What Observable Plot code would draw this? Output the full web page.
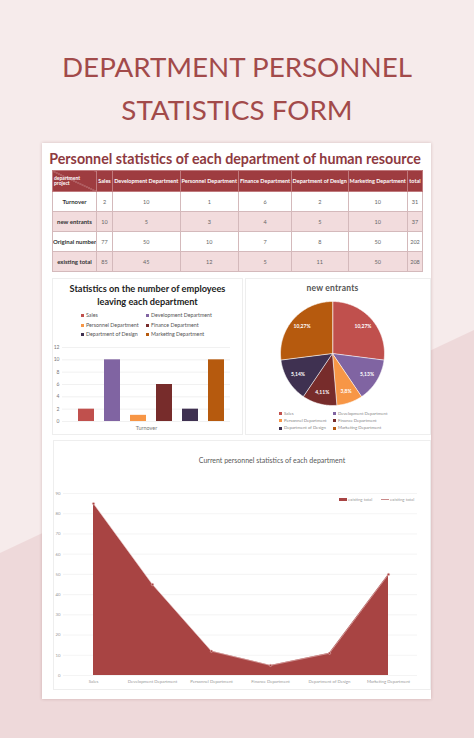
<!DOCTYPE html>
<html><head><meta charset="utf-8">
<script src="https://cdn.jsdelivr.net/npm/d3@7"></script>
<script src="https://cdn.jsdelivr.net/npm/@observablehq/plot@0.6"></script>
<style>
html,body{margin:0;padding:0;}
body{width:474px;height:738px;overflow:hidden;position:relative;font-family:Lato,"Open Sans",sans-serif;background:#f6ebeb;}
.abs{position:absolute;}
#bg2{left:0;top:0;width:474px;height:738px;background:#eed9da;clip-path:polygon(0 553px,474px 330px,474px 738px,0 738px);}
.title{left:0;width:474px;text-align:center;color:#a24a4a;white-space:nowrap;font-weight:400;}
#card{left:42px;top:143px;width:389px;height:556px;background:#fff;box-shadow:0 0 3px rgba(120,60,60,0.25);}
#ttl{left:46px;top:146px;width:378px;height:24px;display:flex;justify-content:center;align-items:center;}
#ttl span{white-space:nowrap;font-weight:700;color:#8e3a3f;}
table{border-collapse:collapse;table-layout:fixed;position:absolute;left:52px;top:170px;width:370px;}
td,th{padding:0;height:19px;text-align:center;font-size:5.5px;overflow:hidden;white-space:nowrap;}
th{background:#9e3c40;color:#fff;font-weight:700;border:0.5px solid #c07a7d;height:20px;}
td{border:0.6px solid #d4b9bb;color:#666;}
td.lab{font-weight:700;color:#333;font-size:6px;}
tr.pink td{background:#f2dcdd;}
th.diag{position:relative;text-align:left;background:#9e3c40 linear-gradient(to top right,transparent calc(50% - 0.4px),#e8c4c6 50%,transparent calc(50% + 0.4px));}
.panel{background:#fff;border:1px solid #eeeeee;box-sizing:border-box;}
.leg{font-size:5.3px;color:#555;white-space:nowrap;}
.sw{display:inline-block;width:3px;height:3px;margin-right:2px;vertical-align:middle;}
</style></head>
<body>
<div id="bg2" class="abs"></div>
<div class="abs title" id="t1" style="top:50px;font-size:31px;">DEPARTMENT PERSONNEL</div>
<div class="abs title" id="t2" style="top:93px;font-size:31px;">STATISTICS FORM</div>
<div id="card" class="abs"></div>
<div id="ttl" class="abs"><span id="ttltext">Personnel statistics of each department of human resource</span></div>
<table id="tbl"></table>
<div class="abs panel" style="left:52px;top:278px;width:191px;height:157px;"></div>
<div class="abs panel" style="left:245px;top:278px;width:186px;height:157px;"></div>
<div class="abs panel" style="left:53px;top:440px;width:378px;height:250px;"></div>
<div class="abs" style="left:52px;top:283px;width:191px;text-align:center;font-weight:700;font-size:9.2px;line-height:12.5px;color:#222;">Statistics on the number of employees<br>leaving each department</div>
<div class="abs" style="left:245px;top:283px;width:175px;text-align:center;font-weight:700;font-size:8.5px;color:#555;letter-spacing:0.2px;">new entrants</div>
<div class="abs" style="left:53px;top:456px;width:438px;text-align:center;font-size:7px;color:#595959;">Current personnel statistics of each department</div>
<div id="barleg"></div>
<div id="pieleg"></div>
<div id="arealeg"></div>
<div id="bar" class="abs" style="left:52px;top:340px;"></div>
<div id="pie" class="abs" style="left:277px;top:298px;"></div>
<div id="area" class="abs" style="left:53px;top:485px;"></div>
<script>
const departments = ["Sales","Development Department","Personnel Department","Finance Department","Department of Design","Marketing Department"];
const rowLabels = ["Turnover","new entrants","Original number","existing total"];
const turnover = [2,10,1,6,2,10];
const newEntrants = [10,5,3,4,5,10];
const originalNumber = [77,50,10,7,8,50];
const existingTotal = [85,45,12,5,11,50];
const rowTotals = [31,37,202,208];
const piePercents = [27,13,8,11,14,27];
const deptColors = ["#c0504d","#8064a2","#f79646","#772c2b","#3f3151","#b65a0e"];
const barTicks = [0,2,4,6,8,10,12];
const areaTicks = [0,10,20,30,40,50,60,70,80,90];

// fit titles
(function(){
  const m = document.createElement("span");
  m.style.cssText="position:absolute;visibility:hidden;white-space:nowrap;font-family:Lato,'Open Sans',sans-serif;";
  document.body.appendChild(m);
  function size(text, weight, target, base){ m.style.fontWeight=weight; m.style.fontSize=base+"px"; m.textContent=text; return base*target/m.getBoundingClientRect().width; }
  const s1 = size("DEPARTMENT PERSONNEL",400,350,31);
  document.getElementById("t1").style.fontSize=s1+"px";
  document.getElementById("t2").style.fontSize=s1+"px";
  const s3 = size("Personnel statistics of each department of human resource",700,372,16);
  document.getElementById("ttltext").style.fontSize=s3+"px";
  m.remove();
})();

// table
const tbl = document.getElementById("tbl");
const widths = [44,16,67.5,58.5,53,56.5,59.5,15];
const cg = document.createElement("colgroup");
widths.forEach(w=>{const c=document.createElement("col");c.style.width=w+"px";cg.appendChild(c);});
tbl.appendChild(cg);
let h = "<tr><th class='diag'><div style='font-size:5px;line-height:5.5px;padding-left:1px;'>department<br>project</div></th>";
departments.forEach(d=>h+=`<th>${d}</th>`); h+="<th>total</th></tr>";
[turnover,newEntrants,originalNumber,existingTotal].forEach((row,i)=>{
  h+=`<tr class="${i%2?'pink':''}"><td class="lab">${rowLabels[i]}</td>`;
  row.forEach(v=>h+=`<td>${v}</td>`); h+=`<td>${rowTotals[i]}</td></tr>`;
});
tbl.innerHTML += h;

// legends
function legend(id, items, x1, x2, y0, dy, fs, color){
  const box = document.getElementById(id);
  items.forEach((d,i)=>{
    const el=document.createElement("div"); el.className="abs leg";
    el.style.left=(i%2?x2:x1)+"px"; el.style.top=(y0+Math.floor(i/2)*dy)+"px"; el.style.fontSize=fs+"px"; el.style.color=color;
    el.innerHTML=`<span class="sw" style="background:${deptColors[i]}"></span>${d}`;
    box.appendChild(el);
  });
}
legend("barleg", departments, 81, 146, 312, 9.6, 5.3, "#555");
legend("pieleg", departments, 279, 333, 410.5, 7.3, 4.3, "#888");
document.getElementById("arealeg").innerHTML =
 `<div class="abs leg" style="left:339px;top:497px;font-size:4.3px;color:#999;"><span style="display:inline-block;width:8px;height:3px;background:#a84443;vertical-align:middle;margin-right:1px;"></span>existing total</div>
  <div class="abs leg" style="left:381px;top:497px;font-size:4.3px;color:#999;"><span style="display:inline-block;width:8px;height:1px;background:#c98a8a;vertical-align:middle;margin-right:1px;"></span>existing total</div>`;

const baseStyle = {background:"transparent", fontFamily:"Lato, sans-serif", overflow:"visible"};

// bar chart
const barData = departments.map((d,i)=>({dept:d, value:turnover[i], color:deptColors[i]}));
document.getElementById("bar").appendChild(Plot.plot({
  width:191, height:95, marginLeft:10, marginRight:13, marginTop:7, marginBottom:14,
  style:{...baseStyle, fontSize:"5px", color:"#777"},
  x:{domain:departments, axis:null, paddingInner:0.38, paddingOuter:0.19, insetLeft:11, insetRight:1},
  y:{domain:[0,12], ticks:barTicks, tickSize:0, tickPadding:3, label:null},
  color:{type:"identity"},
  marks:[
    Plot.ruleY(barTicks,{stroke:"#e8e8e8", strokeWidth:0.6}),
    Plot.barY(barData,{x:"dept", y:"value", fill:"color"}),
    Plot.text(["Turnover"],{frameAnchor:"bottom", dy:8, dx:0, fontSize:5.5, fill:"#777"})
  ]
}));

// pie chart
const arcs = d3.pie().sort(null).value(d=>d)(newEntrants);
const slicePts = [];
arcs.forEach((a,i)=>{
  const n = Math.max(2, Math.ceil((a.endAngle-a.startAngle)/0.02));
  slicePts.push({i, x:0, y:0});
  for(let k=0;k<=n;k++){const t=a.startAngle+(a.endAngle-a.startAngle)*k/n; slicePts.push({i, x:Math.sin(t), y:Math.cos(t)});}
});
const pieLabels = arcs.map((a,i)=>{const t=(a.startAngle+a.endAngle)/2; return {x:0.78*Math.sin(t), y:0.78*Math.cos(t), text:`${newEntrants[i]},${piePercents[i]}%`};});
document.getElementById("pie").appendChild(Plot.plot({
  width:110, height:110, margin:3,
  style:{...baseStyle, fontSize:"5px"},
  x:{domain:[-1,1], axis:null}, y:{domain:[-1,1], axis:null},
  color:{type:"identity"},
  marks:[
    Plot.line(slicePts,{x:"x", y:"y", z:"i", fill:d=>deptColors[d.i], stroke:"#fff", strokeWidth:0.6, curve:"linear-closed"}),
    Plot.text(pieLabels,{x:"x", y:"y", text:"text", fill:"#fff", fontWeight:"bold", fontSize:5})
  ]
}));

// area chart
const areaData = departments.map((d,i)=>({dept:d, value:existingTotal[i]}));
document.getElementById("area").appendChild(Plot.plot({
  width:378, height:205, marginLeft:10, marginRight:14, marginTop:8, marginBottom:15,
  style:{...baseStyle, fontSize:"4.3px", color:"#999"},
  x:{type:"point", domain:departments, padding:0.5, tickSize:0, tickPadding:4, label:null},
  y:{domain:[0,90], ticks:areaTicks, tickSize:0, tickPadding:3, label:null},
  marks:[
    Plot.ruleY(areaTicks,{stroke:"#ececec", strokeWidth:0.6}),
    Plot.areaY(areaData,{x:"dept", y:"value", fill:"#a84443"}),
    Plot.line(areaData,{x:"dept", y:"value", stroke:"#e8c2c2", strokeWidth:0.6}),
    Plot.dot(areaData,{x:"dept", y:"value", r:1.2, stroke:"#e8c2c2", strokeWidth:0.5, fill:"#a84443"})
  ]
}));
</script>
</body></html>
